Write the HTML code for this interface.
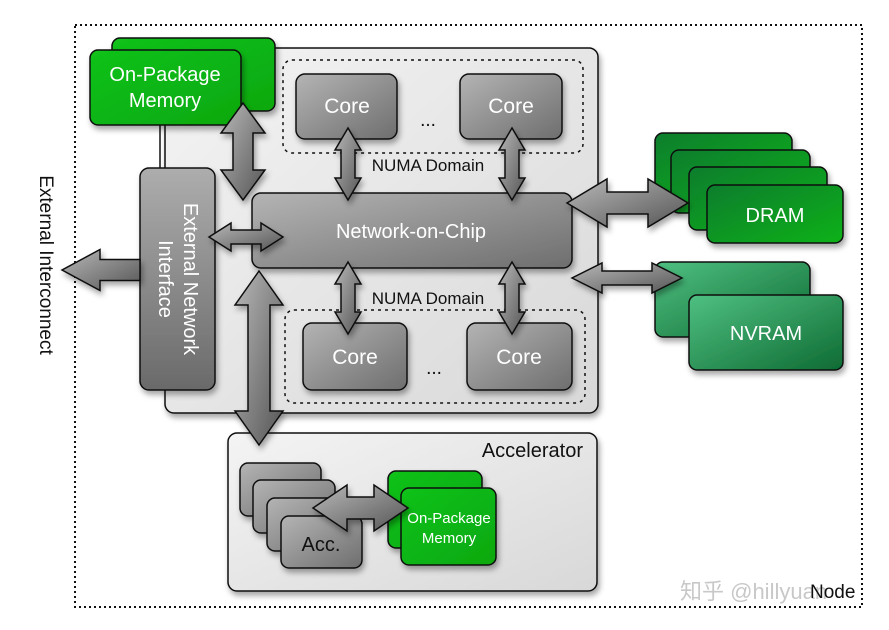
<!DOCTYPE html>
<html><head><meta charset="utf-8">
<style>
html,body{margin:0;padding:0;background:#fff;}
svg{display:block;font-family:"Liberation Sans",Arial,sans-serif;}
</style></head>
<body>
<svg id="s" width="889" height="630" viewBox="0 0 889 630" xmlns="http://www.w3.org/2000/svg">
<defs>
<linearGradient id="gbox" x1="0" y1="0" x2="1" y2="1"><stop offset="0" stop-color="#b4b4b4"/><stop offset="1" stop-color="#6e6e6e"/></linearGradient>
<linearGradient id="geni" x1="0" y1="0" x2="0" y2="1"><stop offset="0" stop-color="#adadad"/><stop offset="1" stop-color="#6a6a6a"/></linearGradient>
<linearGradient id="gchip" x1="0" y1="0" x2="1" y2="1"><stop offset="0" stop-color="#f4f4f4"/><stop offset="1" stop-color="#d8d8d8"/></linearGradient>
<linearGradient id="garr" x1="0" y1="0" x2="1" y2="1"><stop offset="0" stop-color="#b8b8b8"/><stop offset="1" stop-color="#555"/></linearGradient>
<linearGradient id="ggreen" x1="0" y1="0" x2="1" y2="1"><stop offset="0" stop-color="#12c21a"/><stop offset="1" stop-color="#07a80f"/></linearGradient>
<linearGradient id="gdram" x1="0" y1="0" x2="1" y2="1"><stop offset="0" stop-color="#0b7d2e"/><stop offset="1" stop-color="#0db218"/></linearGradient>
<linearGradient id="gnv" x1="0" y1="0" x2="1" y2="1"><stop offset="0" stop-color="#4fc081"/><stop offset="1" stop-color="#0e6b33"/></linearGradient>
<filter id="sh" x="-20%" y="-20%" width="150%" height="150%"><feDropShadow dx="2" dy="4" stdDeviation="3" flood-color="#000" flood-opacity="0.35"/></filter>
</defs>

<rect x="75" y="25" width="787" height="582" fill="none" stroke="#111" stroke-width="2" stroke-dasharray="2,3"/>
<text x="0" y="0" font-size="19" fill="#111" text-anchor="middle" transform="translate(40,265) rotate(90)">External Interconnect</text>

<rect x="165" y="48" width="433" height="365" rx="9" fill="url(#gchip)" stroke="#111" stroke-width="1.5" filter="url(#sh)"/>
<rect x="283" y="60" width="300" height="93" rx="9" fill="none" stroke="#111" stroke-width="1.5" stroke-dasharray="3,4"/>
<rect x="285" y="310" width="300" height="93" rx="9" fill="none" stroke="#111" stroke-width="1.5" stroke-dasharray="3,4"/>

<line x1="160" y1="120" x2="160" y2="170" stroke="#111" stroke-width="1.5"/>
<rect x="112" y="38" width="163" height="73" rx="8" fill="url(#ggreen)" stroke="#111" stroke-width="1.5" filter="url(#sh)"/>
<rect x="90" y="50" width="151" height="75" rx="8" fill="url(#ggreen)" stroke="#111" stroke-width="1.5" filter="url(#sh)"/>
<text x="165" y="81" font-size="20" fill="#fff" text-anchor="middle">On-Package</text>
<text x="165" y="107" font-size="20" fill="#fff" text-anchor="middle">Memory</text>

<g filter="url(#sh)" stroke="#111" stroke-width="1.5" fill="url(#gbox)">
<rect x="296" y="74" width="101" height="65" rx="9"/>
<rect x="460" y="74" width="102" height="65" rx="9"/>
<rect x="303" y="323" width="104" height="67" rx="9"/>
<rect x="467" y="323" width="105" height="67" rx="9"/>
</g>
<g font-size="21" fill="#fff" text-anchor="middle">
<text x="347" y="113">Core</text><text x="511" y="113">Core</text>
<text x="355" y="364">Core</text><text x="519" y="364">Core</text>
</g>
<text x="428" y="126" font-size="19" fill="#111" text-anchor="middle">...</text>
<text x="434" y="374" font-size="19" fill="#111" text-anchor="middle">...</text>
<text x="428" y="171" font-size="17" fill="#111" text-anchor="middle">NUMA Domain</text>
<text x="428" y="304" font-size="17" fill="#111" text-anchor="middle">NUMA Domain</text>

<rect x="252" y="193" width="320" height="75" rx="9" fill="url(#gbox)" stroke="#111" stroke-width="1.5" filter="url(#sh)"/>
<text x="411" y="238" font-size="20" fill="#fff" text-anchor="middle">Network-on-Chip</text>

<rect x="140" y="168" width="75" height="222" rx="9" fill="url(#geni)" stroke="#111" stroke-width="1.5" filter="url(#sh)"/>
<text font-size="20" fill="#fff" text-anchor="middle" transform="translate(184,279) rotate(90)">External Network</text>
<text font-size="20" fill="#fff" text-anchor="middle" transform="translate(159,279) rotate(90)">Interface</text>

<g stroke="#111" stroke-width="1.5" fill="url(#gdram)" filter="url(#sh)">
<rect x="655" y="133" width="137" height="62" rx="8"/>
<rect x="671" y="150" width="139" height="63" rx="8"/>
<rect x="689" y="167" width="138" height="63" rx="8"/>
<rect x="707" y="185" width="136" height="58" rx="8"/>
</g>
<text x="775" y="222" font-size="20" fill="#fff" text-anchor="middle">DRAM</text>
<g stroke="#111" stroke-width="1.5" fill="url(#gnv)" filter="url(#sh)">
<rect x="655" y="262" width="155" height="75" rx="8"/>
<rect x="689" y="295" width="154" height="75" rx="8"/>
</g>
<text x="766" y="340" font-size="20" fill="#fff" text-anchor="middle">NVRAM</text>

<rect x="228" y="433" width="369" height="158" rx="9" fill="url(#gchip)" stroke="#111" stroke-width="1.5" filter="url(#sh)"/>
<text x="583" y="457" font-size="20" fill="#111" text-anchor="end">Accelerator</text>
<g stroke="#111" stroke-width="1.5" fill="url(#gbox)" filter="url(#sh)">
<rect x="240" y="463" width="81" height="53" rx="8"/>
<rect x="253" y="480" width="82" height="53" rx="8"/>
<rect x="267" y="498" width="83" height="53" rx="8"/>
<rect x="281" y="516" width="81" height="52" rx="8"/>
</g>
<text x="321" y="551" font-size="20" fill="#111" text-anchor="middle">Acc.</text>
<g stroke="#111" stroke-width="1.5" fill="url(#ggreen)" filter="url(#sh)">
<rect x="388" y="471" width="94" height="77" rx="8"/>
<rect x="401" y="488" width="95" height="77" rx="8"/>
</g>
<text x="449" y="523" font-size="15" fill="#fff" text-anchor="middle">On-Package</text>
<text x="449" y="543" font-size="15" fill="#fff" text-anchor="middle">Memory</text>

<g id="arrows"></g>

<text x="680" y="599" font-size="22" fill="#c8c8c8" font-family="Liberation Sans, Noto Sans CJK SC, sans-serif">知乎 @hillyuan</text>
<text x="810" y="598" font-size="19" fill="#111">Node</text>
</svg>
<script>
var g=document.getElementById('arrows');
function arr(x1,y1,x2,y2,sw,hw,hl,dbl){
 var dx=x2-x1,dy=y2-y1,L=Math.hypot(dx,dy),ux=dx/L,uy=dy/L,nx=-uy,ny=ux;
 function P(a,b){return [x1+ux*a+nx*b,y1+uy*a+ny*b].map(function(v){return v.toFixed(1)}).join(',');}
 var s=sw/2,h=hw/2,pts=[];
 if(dbl){pts.push(P(0,0),P(hl,h),P(hl,s));} else {pts.push(P(0,s));}
 pts.push(P(L-hl,s),P(L-hl,h),P(L,0),P(L-hl,-h),P(L-hl,-s));
 if(dbl){pts.push(P(hl,-s),P(hl,-h));} else {pts.push(P(0,-s));}
 var p=document.createElementNS('http://www.w3.org/2000/svg','polygon');
 p.setAttribute('points',pts.join(' '));p.setAttribute('fill','url(#garr)');
 p.setAttribute('stroke','#111');p.setAttribute('stroke-width','1.5');p.setAttribute('filter','url(#sh)');
 g.appendChild(p);
}
arr(243,103,243,200,20,44,30,true);
arr(348,128,348,200,14,26,22,true);
arr(512,128,512,200,14,26,22,true);
arr(348,262,348,334,14,26,22,true);
arr(512,262,512,334,14,26,22,true);
arr(209,237,283,237,14,28,22,true);
arr(140,270,62,270,21,41,38,false);
arr(567,203,688,203,22,48,40,true);
arr(572,278,682,278,14,30,30,true);
arr(259,271,259,445,22,48,34,true);
arr(313,508,408,508,22,46,34,true);
</script>
</body></html>
